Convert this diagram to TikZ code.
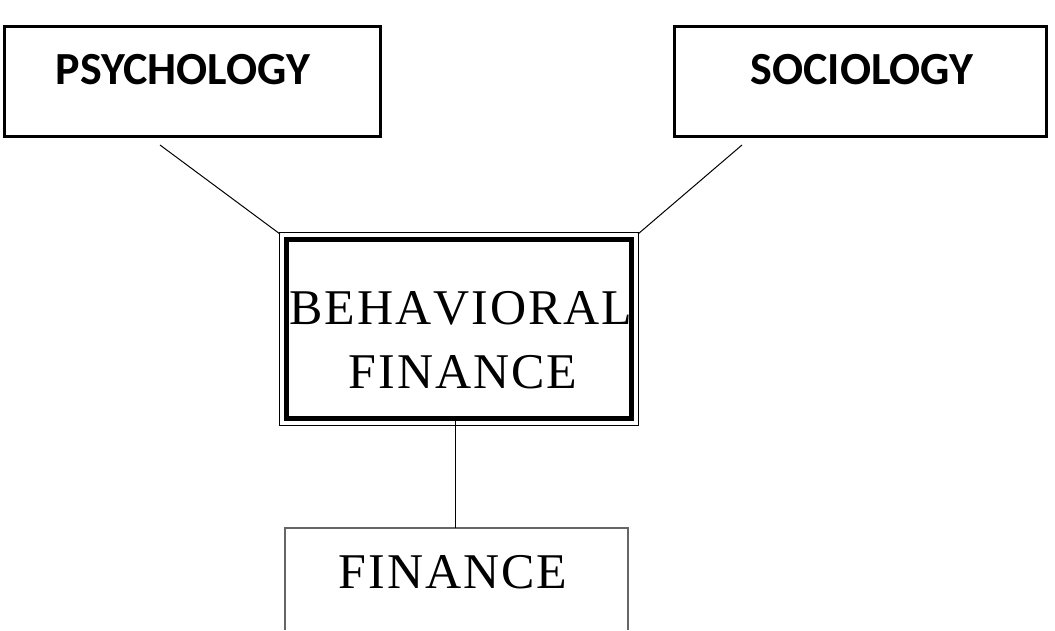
\documentclass[tikz,border=0pt]{standalone}
\usepackage{fontspec}
\setmainfont{Liberation Serif}
\newfontfamily\boldsans{Carlito}
\newcommand{\lsp}{\kern2pt}
\begin{document}
\begin{tikzpicture}[x=1pt,y=-1pt,
  topbox/.style={draw,line width=2.5pt,minimum width=376pt,minimum height=110pt,anchor=north west,inner sep=0pt},
  toptext/.style={font=\boldsans\bfseries\fontsize{46}{50}\selectfont,inner sep=0pt},
  sertext/.style={font=\fontsize{50}{60}\selectfont,inner sep=0pt},
  conn/.style={draw,line width=1pt}]
\useasboundingbox[fill=white] (0,0) rectangle (1055,630);
\node[topbox] (psy) at (3,25) {};
\node[topbox,minimum width=372pt] (soc) at (673,25) {};
\node[toptext] (psyt) at (183,70) {PSYCHOLOGY};
\node[toptext] (soct) at (862,70) {SOCIOLOGY};
\node[draw,line width=1.2pt,minimum width=359pt,minimum height=193pt,anchor=north west,inner sep=0pt] (bfo) at (279,232) {};
\node[draw,line width=5pt,minimum width=345pt,minimum height=179pt,anchor=center,inner sep=0pt] (bf) at (bfo.center) {};
\node[sertext] (bft1) at (461,308) {B\lsp E\lsp H\lsp A\lsp V\lsp I\lsp O\lsp R\lsp A\lsp L};
\node[sertext] (bft2) at (463,372) {F\lsp I\lsp N\lsp A\lsp N\lsp C\lsp E};
\draw[gray!80!black,line width=1.2pt] (285,630) -- (285,528) -- (628,528) -- (628,630);
\node[sertext] (fin) at (453,572) {F\lsp I\lsp N\lsp A\lsp N\lsp C\lsp E};
\coordinate (p1) at (160,145); \coordinate (p2) at (280,234);
\coordinate (s1) at (742,145); \coordinate (s2) at (638,234);
\coordinate (f1) at (455,421); \coordinate (f2) at (455,528);
\draw[conn] (p1) -- (p2);
\draw[conn] (s1) -- (s2);
\draw[conn] (f1) -- (f2);
\end{tikzpicture}
\end{document}
